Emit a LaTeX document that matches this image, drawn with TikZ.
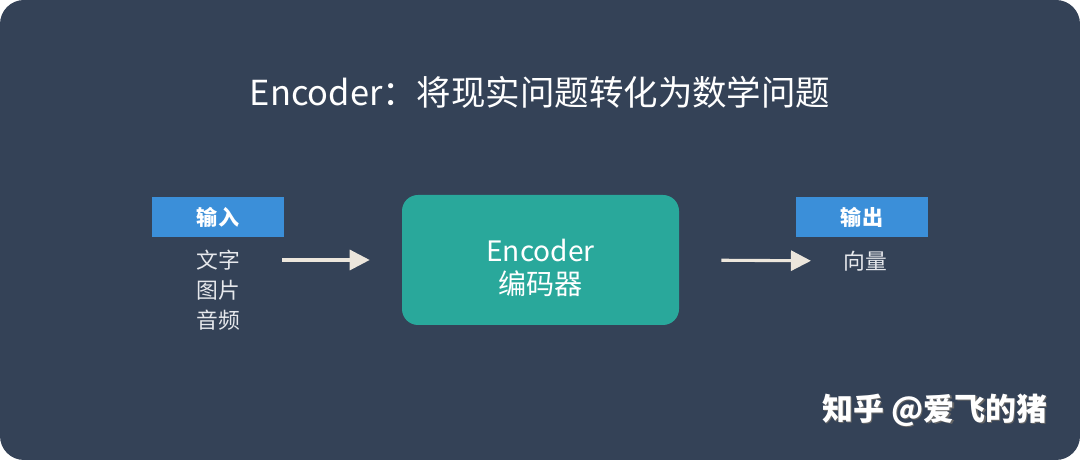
\documentclass[tikz,border=0pt]{standalone}
\usepackage{fontspec}
\setmainfont{Noto Sans CJK SC}
\usetikzlibrary{arrows.meta}
\definecolor{bgslate}{HTML}{344257}
\definecolor{tagblue}{HTML}{3B8FD9}
\definecolor{encteal}{HTML}{29A89B}
\definecolor{arrowcream}{HTML}{ECE6DC}
\definecolor{softwhite}{HTML}{E6E8EC}
\tikzset{
	tagbox/.style={fill=tagblue, minimum width=3.3cm, minimum height=1cm, inner sep=0pt,
		text=white, font=\fontsize{15}{18}\selectfont\bfseries},
	item/.style={inner sep=0pt, text=softwhite, font=\fontsize{15.5}{18}\selectfont},
	flow/.style={draw=arrowcream, line width=2.2pt, -{Triangle[length=0.5cm,width=0.5cm]}}
}
\begin{document}
\begin{tikzpicture}
		%Background
		\useasboundingbox (0,0) rectangle (27,11.5);
		\fill[white] (0,0) rectangle (27,11.5);
		\fill[bgslate, rounded corners=0.6cm] (0,0) rectangle (27,11.5);
		
		%Title
		\node[text=white, font=\fontsize{24.5}{28}\selectfont] (TT) at (13.5,9.2) {Encoder：将现实问题转化为数学问题};
		
		%Input
		\node[tagbox] (IN) at (5.45,6.075) {输入};
		\node[item] (T1) at (5.45,5.0) {文字};
		\node[item] (T2) at (5.45,4.25) {图片};
		\node[item] (T3) at (5.45,3.5) {音频};
		
		%Encoder
		\node[fill=encteal, rounded corners=0.4cm, minimum width=6.925cm, minimum height=3.25cm] (ENC) at (13.5125,5.0) {};
		\node[text=white, font=\fontsize{20}{23}\selectfont] (E1) at (13.5125,5.25) {Encoder};
		\node[text=white, font=\fontsize{20}{23}\selectfont] (E2) at (13.5125,4.4) {编码器};
		
		%Output
		\node[tagbox] (OUT) at (21.55,6.075) {输出};
		\node[item] (V1) at (21.625,4.975) {向量};
		
		%Arrows
		\draw[flow, shorten <=1.05cm, shorten >=0.8cm] (T1.east) -- (ENC.west);
		\draw[flow, shorten <=1.05cm, shorten >=0.8cm] (ENC.east) -- (V1.west);
		
		%Watermark
		\node[text=black!60, font=\fontsize{22}{25}\selectfont\bfseries] (WM0) at (23.41,1.22) {知乎 @爱飞的猪};
		\node[text=white, font=\fontsize{22}{25}\selectfont\bfseries] (WM) at (23.375,1.25) {知乎 @爱飞的猪};
		
	\end{tikzpicture}
\end{document}
